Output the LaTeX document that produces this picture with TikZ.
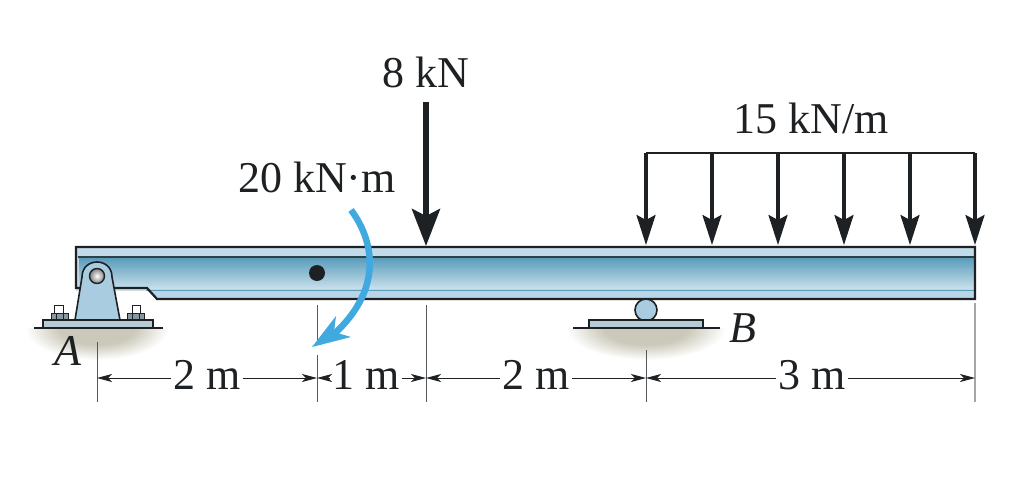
\documentclass[tikz,border=0pt]{standalone}
\usepackage{fontspec}
\setmainfont{Liberation Serif}
\usetikzlibrary{arrows.meta}
\definecolor{ink}{HTML}{1E2124}
\definecolor{beamdark}{HTML}{5A9DBB}
\definecolor{beamlight}{HTML}{CDE2ED}
\definecolor{strip}{HTML}{C3DBE9}
\definecolor{stripb}{HTML}{B9D6E8}
\definecolor{steel}{HTML}{A9CCE0}
\definecolor{plate}{HTML}{B4CBD6}
\definecolor{moment}{HTML}{3FA9E0}
\definecolor{tick}{HTML}{55585A}
\definecolor{earth}{HTML}{CBC9BA}
\pgfdeclareradialshading{groundfade}{\pgfpoint{0bp}{0bp}}{color(0bp)=(earth); color(13bp)=(earth); color(25bp)=(white); color(50bp)=(white)}
\tikzset{
  lbl/.style={font=\fontsize{44}{50}\selectfont,text=ink,anchor=base,inner sep=0pt},
  dimlbl/.style={lbl,inner xsep=2pt,inner ysep=2pt},
  tickline/.style={draw=tick,line width=1pt},
  dimline/.style={draw=ink,line width=.9pt,-{Stealth[length=15pt,width=8pt,inset=4pt]}},
  load/.style={draw=ink,line width=3.2pt,-{Stealth[length=30pt,width=19pt,inset=5pt]}},
  heavy/.style={draw=ink,line width=5.5pt,-{Stealth[length=37pt,width=28pt,inset=7pt]}},
  outline/.style={draw=ink,line width=2.2pt,line join=miter},
  part/.style={draw=ink,line width=1.6pt},
}
\begin{document}
\begin{tikzpicture}[x=1pt,y=-1pt]
\useasboundingbox (0,0) rectangle (1018,490);
% ground shadows
\begin{scope}
  \clip (20,328) rectangle (180,366);
  \shade[shading=groundfade] (97,328) ellipse [x radius=72pt,y radius=32pt];
\end{scope}
\begin{scope}
  \clip (560,328) rectangle (735,366);
  \shade[shading=groundfade] (646,328) ellipse [x radius=80pt,y radius=32pt];
\end{scope}
% beam
\fill[strip] (76,247) rectangle (975,258);
\shade[top color=beamdark,bottom color=beamlight] (76,258) rectangle (975,290);
\fill[strip] (76,258) rectangle (79,288);
\fill[stripb] (146,289) -- (157,298) -- (975,298) -- (975,289) -- cycle;
\draw[draw=beamdark,line width=1pt] (146,290) -- (975,290);
\draw[draw=ink!75!beamdark,line width=1.3pt] (78,257) -- (975,257);
\draw[outline] (76,288) -- (76,247) -- (975,247) -- (975,299) -- (157,299) -- (147,288) -- cycle;
% roller B
\draw[part,fill=steel] (646,310) circle [radius=11pt];
\draw[part,fill=plate] (589,328) rectangle (703,320);
\draw[draw=ink,line width=1.4pt] (573,328) -- (720,328);
% bolts at A
\draw[draw=ink,line width=1pt,fill=white] (54,305) rectangle (63,313);
\draw[draw=ink,line width=1pt,fill=plate!75!black] (51,313) rectangle (68,321);
\draw[draw=ink,line width=.7pt] (56,313) -- (56,321) (63,313) -- (63,321);
\draw[draw=ink,line width=1pt,fill=white] (132,305) rectangle (140,313);
\draw[draw=ink,line width=1pt,fill=plate!75!black] (127,313) rectangle (144,321);
\draw[draw=ink,line width=.7pt] (132,313) -- (132,321) (139,313) -- (139,321);
% pin A bracket
\draw[part,fill=steel] (75,320) -- (82,277) .. controls (82,257) and (112,257) .. (112,277) -- (120,320) -- cycle;
\shade[inner color=white,outer color=gray,draw=ink,line width=1.4pt] (97,276) circle [radius=7.5pt];
\draw[part,fill=plate] (43,328) rectangle (153,320);
\draw[draw=ink,line width=1.4pt] (34,328) -- (163,328);
% point on beam
\fill[ink] (317,273) circle [radius=8pt];
% dimension witnesses
\coordinate (tA) at (97,378);
\coordinate (tC) at (317,378);
\coordinate (tD) at (426,378);
\coordinate (tB) at (646,378);
\coordinate (tE) at (975,378);
\draw[tickline] (97,342) -- (97,402);
\draw[tickline] (317,305) -- (317,342);
\draw[tickline] (317,355) -- (317,402);
\draw[tickline] (426,305) -- (426,402);
\draw[tickline] (646,350) -- (646,402);
\draw[tickline,draw=gray!70,line width=1.6pt] (975,303) -- (975,402);
% dimension labels
\node[dimlbl] (d1) at (207,389) {2 m};
\node[dimlbl] (d2) at (366,389) {1 m};
\node[dimlbl] (d3) at (536,389) {2 m};
\node[dimlbl] (d4) at (812,389) {3 m};
\draw[dimline] (d1.west |- tA) -- (tA);
\draw[dimline] (d1.east |- tA) -- (tC);
\draw[dimline] (d2.west |- tC) -- (tC);
\draw[dimline] (d2.east |- tC) -- (tD);
\draw[dimline] (d3.west |- tD) -- (tD);
\draw[dimline] (d3.east |- tD) -- (tB);
\draw[dimline] (d4.west |- tB) -- (tB);
\draw[dimline] (d4.east |- tB) -- (tE);
% distributed load
\coordinate (q0) at (646,153);
\coordinate (q1) at (712,153);
\coordinate (q2) at (778,153);
\coordinate (q3) at (844,153);
\coordinate (q4) at (910,153);
\coordinate (q5) at (975,153);
\draw[draw=ink,line width=1.4pt] (q0) -- (q5);
\foreach \n/\xx in {q0/646,q1/712,q2/778,q3/844,q4/910,q5/975}{
  \coordinate (e\n) at (\xx,245);
  \draw[load] (\n) -- (e\n);
}
% point load
\coordinate (p0) at (426,102);
\coordinate (p1) at (426,246);
\draw[heavy] (p0) -- (p1);
% moment
\coordinate (m0) at (351,210);
\coordinate (m1) at (312,347);
\draw[draw=moment,line width=6.5pt] (m0) .. controls (372,238) and (386,287) .. (333,335);
\fill[moment] (m1) -- (336,316) -- (334,332) -- (351,337) -- cycle;
% texts
\node[lbl] (t8) at (426,87) {8 kN};
\node[lbl] (t20) at (317,192) {20 kN·m};
\node[lbl] (t15) at (811,133) {15 kN/m};
\node[lbl,font=\fontsize{44}{50}\selectfont\itshape] (tAa) at (68,365) {A};
\node[lbl,font=\fontsize{44}{50}\selectfont\itshape] (tBb) at (743,342) {B};
\end{tikzpicture}
\end{document}
